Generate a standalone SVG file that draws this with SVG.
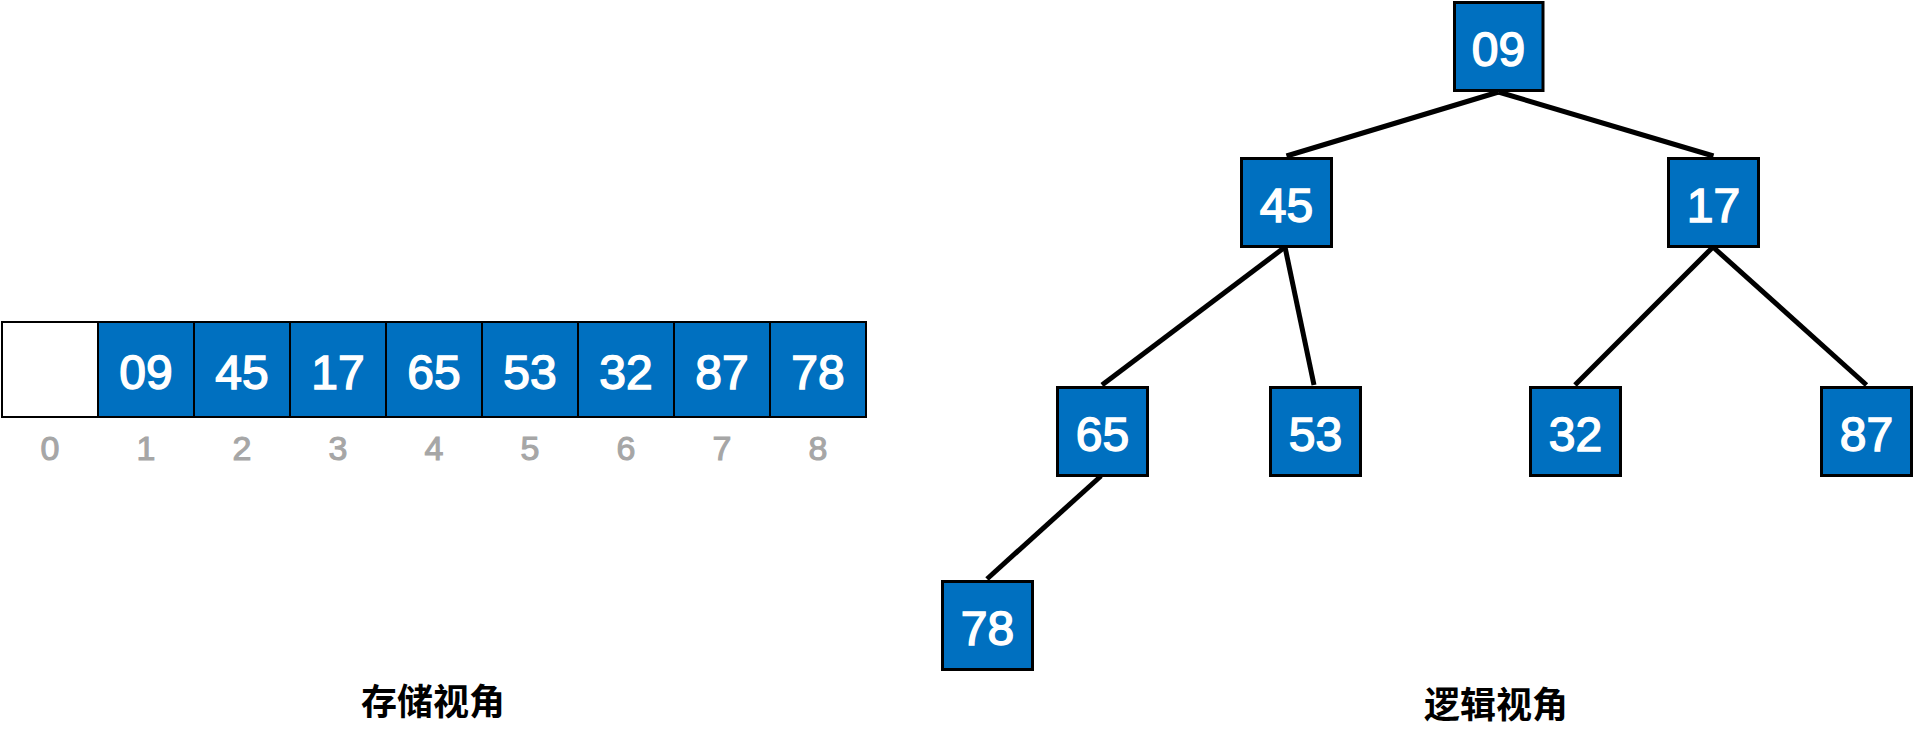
<svg xmlns="http://www.w3.org/2000/svg" width="1925" height="752" viewBox="0 0 1925 752">
<style>
.cell{fill:#0070C0;stroke:#000;stroke-width:2}
.empty{fill:#fff;stroke:#000;stroke-width:2}
.node{fill:#0070C0;stroke:#000;stroke-width:3}
.val{font-family:"Liberation Sans",Arial,sans-serif;font-size:48px;fill:#fff;stroke:#fff;stroke-width:1.5;text-anchor:middle}
.idx{font-family:"Liberation Sans",Arial,sans-serif;font-size:34px;fill:#A6A6A6;stroke:#A6A6A6;stroke-width:1.1;text-anchor:middle}
.title{font-family:"Liberation Sans","Noto Sans CJK SC",sans-serif;font-weight:bold;font-size:36px;fill:#000;text-anchor:middle}
.edge{stroke:#000;stroke-width:5;fill:none}
</style>
<rect width="1925" height="752" fill="#fff"/>
<g id="array">
<rect class="empty" x="2" y="322" width="96" height="95"/>
<rect class="cell" x="98" y="322" width="96" height="95"/>
<rect class="cell" x="194" y="322" width="96" height="95"/>
<rect class="cell" x="290" y="322" width="96" height="95"/>
<rect class="cell" x="386" y="322" width="96" height="95"/>
<rect class="cell" x="482" y="322" width="96" height="95"/>
<rect class="cell" x="578" y="322" width="96" height="95"/>
<rect class="cell" x="674" y="322" width="96" height="95"/>
<rect class="cell" x="770" y="322" width="96" height="95"/>
<text class="val" x="146" y="389">09</text>
<text class="val" x="242" y="389">45</text>
<text class="val" x="338" y="389">17</text>
<text class="val" x="434" y="389">65</text>
<text class="val" x="530" y="389">53</text>
<text class="val" x="626" y="389">32</text>
<text class="val" x="722" y="389">87</text>
<text class="val" x="818" y="389">78</text>
<text class="idx" x="50" y="460">0</text>
<text class="idx" x="146" y="460">1</text>
<text class="idx" x="242" y="460">2</text>
<text class="idx" x="338" y="460">3</text>
<text class="idx" x="434" y="460">4</text>
<text class="idx" x="530" y="460">5</text>
<text class="idx" x="626" y="460">6</text>
<text class="idx" x="722" y="460">7</text>
<text class="idx" x="818" y="460">8</text>
</g>
<g id="connectors">
<line class="edge" x1="1498.5" y1="92" x2="1286.5" y2="156"/>
<line class="edge" x1="1498.5" y1="92" x2="1713.5" y2="156"/>
<line class="edge" x1="1285" y1="247" x2="1102" y2="385"/>
<line class="edge" x1="1285" y1="247" x2="1314" y2="385"/>
<line class="edge" x1="1713" y1="247" x2="1575" y2="385"/>
<line class="edge" x1="1713" y1="247" x2="1866.5" y2="385"/>
<line class="edge" x1="1101" y1="476" x2="987" y2="579"/>
</g>
<g id="n09"><rect class="node" x="1454.5" y="2.5" width="88.5" height="88"/><text class="val" x="1498.5" y="65.5">09</text></g>
<g id="n45"><rect class="node" x="1241.5" y="158.5" width="90" height="88"/><text class="val" x="1286.5" y="221.5">45</text></g>
<g id="n17"><rect class="node" x="1668.5" y="158.5" width="90" height="88"/><text class="val" x="1713.5" y="221.5">17</text></g>
<g id="n65"><rect class="node" x="1057.5" y="387.5" width="90" height="88"/><text class="val" x="1102.5" y="450.5">65</text></g>
<g id="n53"><rect class="node" x="1270.5" y="387.5" width="90" height="88"/><text class="val" x="1315.5" y="450.5">53</text></g>
<g id="n32"><rect class="node" x="1530.5" y="387.5" width="90" height="88"/><text class="val" x="1575.5" y="450.5">32</text></g>
<g id="n87"><rect class="node" x="1821.5" y="387.5" width="90" height="88"/><text class="val" x="1866.5" y="450.5">87</text></g>
<g id="n78"><rect class="node" x="942.5" y="581.5" width="90" height="88"/><text class="val" x="987.5" y="644.5">78</text></g>
<text class="title" x="433" y="715">存储视角</text>
<text class="title" x="1496" y="718">逻辑视角</text>
</svg>
